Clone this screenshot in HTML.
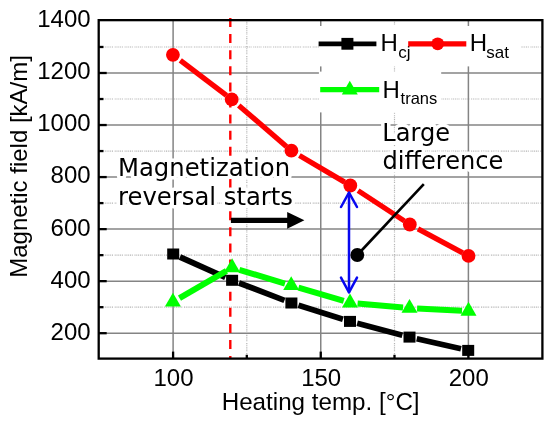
<!DOCTYPE html><html><head><meta charset="utf-8"><style>
html,body{margin:0;padding:0;background:#fff;width:550px;height:425px;overflow:hidden}
svg{display:block}
.t{font-family:"Liberation Sans",Arial,sans-serif;fill:#000}
.d{font-family:"DejaVu Sans",Verdana,sans-serif;fill:#000;stroke:#fff;stroke-width:7px;stroke-linejoin:round;paint-order:stroke}
</style></head><body>
<svg width="550" height="425" viewBox="0 0 550 425">
<rect x="0" y="0" width="550" height="425" fill="#fff"/>
<line x1="99.90" y1="307.18" x2="541.20" y2="307.18" stroke="#b4b4b4" stroke-width="1.2" stroke-dasharray="1 0.8 1 0.8 1 0.8 1 0.8 1 1.7" stroke-dashoffset="5"/>
<line x1="99.90" y1="255.14" x2="541.20" y2="255.14" stroke="#b4b4b4" stroke-width="1.2" stroke-dasharray="1 0.8 1 0.8 1 0.8 1 0.8 1 1.7" stroke-dashoffset="5"/>
<line x1="99.90" y1="203.10" x2="541.20" y2="203.10" stroke="#b4b4b4" stroke-width="1.2" stroke-dasharray="1 0.8 1 0.8 1 0.8 1 0.8 1 1.7" stroke-dashoffset="5"/>
<line x1="99.90" y1="151.06" x2="541.20" y2="151.06" stroke="#b4b4b4" stroke-width="1.2" stroke-dasharray="1 0.8 1 0.8 1 0.8 1 0.8 1 1.7" stroke-dashoffset="5"/>
<line x1="99.90" y1="99.02" x2="541.20" y2="99.02" stroke="#b4b4b4" stroke-width="1.2" stroke-dasharray="1 0.8 1 0.8 1 0.8 1 0.8 1 1.7" stroke-dashoffset="5"/>
<line x1="99.90" y1="46.98" x2="541.20" y2="46.98" stroke="#b4b4b4" stroke-width="1.2" stroke-dasharray="1 0.8 1 0.8 1 0.8 1 0.8 1 1.7" stroke-dashoffset="5"/>
<line x1="246.80" y1="21.35" x2="246.80" y2="357.40" stroke="#b4b4b4" stroke-width="1.2" stroke-dasharray="1 0.8 1 0.8 1 0.8 1 0.8 1 1.7" stroke-dashoffset="5"/>
<line x1="394.50" y1="21.35" x2="394.50" y2="357.40" stroke="#b4b4b4" stroke-width="1.2" stroke-dasharray="1 0.8 1 0.8 1 0.8 1 0.8 1 1.7" stroke-dashoffset="5"/>
<line x1="98.70" y1="333.20" x2="542.40" y2="333.20" stroke="#848484" stroke-width="1.5"/>
<line x1="98.70" y1="281.16" x2="542.40" y2="281.16" stroke="#848484" stroke-width="1.5"/>
<line x1="98.70" y1="229.12" x2="542.40" y2="229.12" stroke="#848484" stroke-width="1.5"/>
<line x1="98.70" y1="177.08" x2="542.40" y2="177.08" stroke="#848484" stroke-width="1.5"/>
<line x1="98.70" y1="125.04" x2="542.40" y2="125.04" stroke="#848484" stroke-width="1.5"/>
<line x1="98.70" y1="73.00" x2="542.40" y2="73.00" stroke="#848484" stroke-width="1.5"/>
<line x1="173.10" y1="20.15" x2="173.10" y2="358.60" stroke="#848484" stroke-width="1.5"/>
<line x1="320.75" y1="20.15" x2="320.75" y2="358.60" stroke="#848484" stroke-width="1.5"/>
<line x1="468.40" y1="20.15" x2="468.40" y2="358.60" stroke="#848484" stroke-width="1.5"/>
<rect x="318.9" y="26" width="202.1" height="40.4" fill="#fff"/>
<rect x="318.9" y="71.6" width="122.3" height="40.8" fill="#fff"/>
<line x1="230.3" y1="18" x2="230.3" y2="358.60" stroke="#ff0000" stroke-width="2.4" stroke-dasharray="9 7.1"/>
<line x1="179.96" y1="257.02" x2="225.34" y2="277.28" stroke="#000" stroke-width="5.8"/>
<line x1="239.01" y1="282.95" x2="284.49" y2="300.35" stroke="#000" stroke-width="5.8"/>
<line x1="298.46" y1="305.22" x2="342.94" y2="319.18" stroke="#000" stroke-width="5.8"/>
<line x1="357.16" y1="323.29" x2="402.34" y2="335.21" stroke="#000" stroke-width="5.8"/>
<line x1="416.72" y1="338.74" x2="460.98" y2="348.76" stroke="#000" stroke-width="5.8"/>
<rect x="167.20" y="248.50" width="12" height="11" fill="#000"/>
<rect x="226.10" y="274.80" width="12" height="11" fill="#000"/>
<rect x="285.40" y="297.50" width="12" height="11" fill="#000"/>
<rect x="344.00" y="315.90" width="12" height="11" fill="#000"/>
<rect x="403.50" y="331.60" width="12" height="11" fill="#000"/>
<rect x="462.20" y="344.90" width="12" height="11" fill="#000"/>
<line x1="180.31" y1="60.42" x2="226.44" y2="95.41" stroke="#ff0000" stroke-width="5.3"/>
<line x1="238.75" y1="105.46" x2="286.39" y2="146.40" stroke="#ff0000" stroke-width="5.3"/>
<line x1="299.41" y1="155.43" x2="344.62" y2="182.14" stroke="#ff0000" stroke-width="5.3"/>
<line x1="358.08" y1="190.60" x2="404.28" y2="220.88" stroke="#ff0000" stroke-width="5.3"/>
<line x1="418.00" y1="228.89" x2="462.68" y2="252.79" stroke="#ff0000" stroke-width="5.3"/>
<circle cx="172.90" cy="54.80" r="6.9" fill="#ff0000"/>
<circle cx="231.70" cy="99.40" r="6.9" fill="#ff0000"/>
<circle cx="291.40" cy="150.70" r="6.9" fill="#ff0000"/>
<circle cx="350.30" cy="185.50" r="6.9" fill="#ff0000"/>
<circle cx="409.80" cy="224.50" r="6.9" fill="#ff0000"/>
<circle cx="468.50" cy="255.90" r="6.9" fill="#ff0000"/>
<line x1="179.48" y1="298.09" x2="226.48" y2="270.86" stroke="#00ff00" stroke-width="6"/>
<line x1="239.37" y1="269.80" x2="284.98" y2="283.62" stroke="#00ff00" stroke-width="6"/>
<line x1="298.49" y1="287.65" x2="343.76" y2="300.97" stroke="#00ff00" stroke-width="6"/>
<line x1="357.57" y1="303.49" x2="403.03" y2="307.61" stroke="#00ff00" stroke-width="6"/>
<line x1="417.09" y1="308.57" x2="462.01" y2="310.78" stroke="#00ff00" stroke-width="6"/>
<polygon points="172.90,292.66 180.90,306.52 164.90,306.52" fill="#00ff00"/>
<polygon points="232.10,258.36 240.10,272.22 224.10,272.22" fill="#00ff00"/>
<polygon points="291.20,276.26 299.20,290.12 283.20,290.12" fill="#00ff00"/>
<polygon points="350.00,293.56 358.00,307.42 342.00,307.42" fill="#00ff00"/>
<polygon points="409.50,298.96 417.50,312.82 401.50,312.82" fill="#00ff00"/>
<polygon points="468.50,301.86 476.50,315.72 460.50,315.72" fill="#00ff00"/>
<rect x="98.7" y="20.15" width="443.70" height="338.45" fill="none" stroke="#000" stroke-width="2.3"/>
<line x1="98.70" y1="333.20" x2="106.70" y2="333.20" stroke="#000" stroke-width="2.3"/>
<line x1="98.70" y1="281.16" x2="106.70" y2="281.16" stroke="#000" stroke-width="2.3"/>
<line x1="98.70" y1="229.12" x2="106.70" y2="229.12" stroke="#000" stroke-width="2.3"/>
<line x1="98.70" y1="177.08" x2="106.70" y2="177.08" stroke="#000" stroke-width="2.3"/>
<line x1="98.70" y1="125.04" x2="106.70" y2="125.04" stroke="#000" stroke-width="2.3"/>
<line x1="98.70" y1="73.00" x2="106.70" y2="73.00" stroke="#000" stroke-width="2.3"/>
<line x1="98.70" y1="307.18" x2="103.50" y2="307.18" stroke="#000" stroke-width="2.3"/>
<line x1="98.70" y1="255.14" x2="103.50" y2="255.14" stroke="#000" stroke-width="2.3"/>
<line x1="98.70" y1="203.10" x2="103.50" y2="203.10" stroke="#000" stroke-width="2.3"/>
<line x1="98.70" y1="151.06" x2="103.50" y2="151.06" stroke="#000" stroke-width="2.3"/>
<line x1="98.70" y1="99.02" x2="103.50" y2="99.02" stroke="#000" stroke-width="2.3"/>
<line x1="98.70" y1="46.98" x2="103.50" y2="46.98" stroke="#000" stroke-width="2.3"/>
<line x1="173.10" y1="358.60" x2="173.10" y2="351.60" stroke="#000" stroke-width="2.3"/>
<line x1="320.75" y1="358.60" x2="320.75" y2="351.60" stroke="#000" stroke-width="2.3"/>
<line x1="468.40" y1="358.60" x2="468.40" y2="351.60" stroke="#000" stroke-width="2.3"/>
<line x1="246.80" y1="358.60" x2="246.80" y2="354.80" stroke="#000" stroke-width="2.3"/>
<line x1="394.50" y1="358.60" x2="394.50" y2="354.80" stroke="#000" stroke-width="2.3"/>
<text class="t" x="90.6" y="340.30" font-size="24" text-anchor="end">200</text>
<text class="t" x="90.6" y="288.03" font-size="24" text-anchor="end">400</text>
<text class="t" x="90.6" y="235.76" font-size="24" text-anchor="end">600</text>
<text class="t" x="90.6" y="183.49" font-size="24" text-anchor="end">800</text>
<text class="t" x="90.6" y="131.22" font-size="24" text-anchor="end">1000</text>
<text class="t" x="90.6" y="78.95" font-size="24" text-anchor="end">1200</text>
<text class="t" x="90.6" y="26.68" font-size="24" text-anchor="end">1400</text>
<text class="t" x="173.50" y="386.3" font-size="24" text-anchor="middle">100</text>
<text class="t" x="321.15" y="386.3" font-size="24" text-anchor="middle">150</text>
<text class="t" x="468.80" y="386.3" font-size="24" text-anchor="middle">200</text>
<text class="t" x="221.7" y="409.8" font-size="24.2">Heating temp. [°C]</text>
<text class="t" transform="translate(26.5,277.8) rotate(-90)" font-size="24">Magnetic field [kA/m]</text>
<text class="d" x="118" y="176.3" font-size="24.3">Magnetization</text>
<text class="d" x="118" y="204.8" font-size="24.3">reversal starts</text>
<text class="d" x="382.3" y="140.6" font-size="24.1">Large</text>
<text class="d" x="382.4" y="169.1" font-size="24.1">difference</text>
<line x1="230.9" y1="220.3" x2="288" y2="220.3" stroke="#000" stroke-width="5.3"/>
<polygon points="287.2,211.9 304.4,220.3 287.2,228.7" fill="#000"/>
<line x1="349" y1="193" x2="349" y2="292" stroke="#0808f0" stroke-width="2.5" fill="none" stroke-linecap="round" stroke-linejoin="round"/>
<polyline points="341,207 349,192.6 357,207" stroke="#0808f0" stroke-width="2.5" fill="none" stroke-linecap="round" stroke-linejoin="round"/>
<polyline points="341,277.6 349,292.4 357,277.6" stroke="#0808f0" stroke-width="2.5" fill="none" stroke-linecap="round" stroke-linejoin="round"/>
<line x1="357.3" y1="255" x2="423.8" y2="184.2" stroke="#000" stroke-width="2.6"/>
<circle cx="357.3" cy="255" r="6.9" fill="#000"/>
<line x1="318.6" y1="43.8" x2="376.4" y2="43.8" stroke="#000" stroke-width="4.8"/>
<rect x="341.40" y="37.90" width="12" height="11.8" fill="#000"/>
<text class="t" x="380.6" y="51.4" font-size="24">H</text>
<text class="t" x="398.2" y="57.6" font-size="17">cj</text>
<line x1="408.2" y1="43.8" x2="466.3" y2="43.8" stroke="#ff0000" stroke-width="5.2"/>
<circle cx="437.70" cy="43.80" r="6.4" fill="#ff0000"/>
<text class="t" x="469.7" y="51.4" font-size="24">H</text>
<text class="t" x="486.2" y="57.7" font-size="17">sat</text>
<line x1="320.2" y1="89.6" x2="379.2" y2="89.6" stroke="#00ff00" stroke-width="5.2"/>
<polygon points="349.80,80.76 357.80,94.62 341.80,94.62" fill="#00ff00"/>
<text class="t" x="382.4" y="97.5" font-size="24">H</text>
<text class="t" x="400.6" y="104" font-size="16.5">trans</text>
</svg></body></html>
